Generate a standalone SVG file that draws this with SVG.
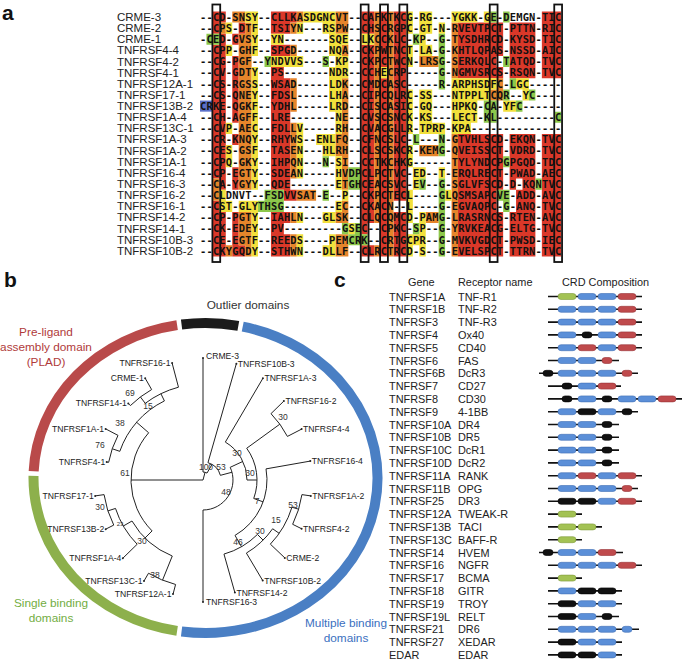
<svg xmlns="http://www.w3.org/2000/svg" xmlns:xlink="http://www.w3.org/1999/xlink" width="685" height="664" viewBox="0 0 685 664">
<style>
.pl{font-family:"Liberation Sans",Arial,sans-serif;font-weight:bold;font-size:21px;fill:#111}
.lbl{font-family:"Liberation Sans",Arial,sans-serif;font-size:11.5px;fill:#222}
.cl{font-family:"Liberation Sans",Arial,sans-serif;font-size:10.9px;fill:#222}
.seq{font-family:"DejaVu Sans Mono",monospace;font-weight:bold;font-size:10.4px;fill:#111}
.box{fill:none;stroke:#111;stroke-width:1.8}
.cR{fill:#da3829}.cO{fill:#e6852b}.cY{fill:#f2e03c}.cG{fill:#8cc84b}.cB{fill:#5b70c9}
.tl{font-family:"Liberation Sans",Arial,sans-serif;font-size:8.6px;fill:#222}
.tr{text-anchor:end}
.bs{font-family:"Liberation Sans",Arial,sans-serif;font-size:8.5px;fill:#333;text-anchor:middle}
.tree{fill:none;stroke:#222;stroke-width:1}
.ring{fill:none;stroke-width:10}
.gl{font-family:"Liberation Sans",Arial,sans-serif;font-size:11.8px;text-anchor:middle}
.crdl{fill:none;stroke:#111;stroke-width:1.6}
.cg{fill:#a3c254;stroke:#7f9a3a;stroke-width:.6}
.cb{fill:#5b8fd8;stroke:#3f6fb5;stroke-width:.6}
.cr{fill:#bf4a4c;stroke:#973335;stroke-width:.6}
.ck{fill:#111;stroke:#000;stroke-width:.6}
</style>
<defs>
<rect id="F" x="0" y="-3" width="18" height="6" rx="3"/>
<rect id="S" x="4" y="-3" width="10" height="6" rx="3"/>
</defs>

<g id="panel-a">
<text class="pl" x="2" y="20">a</text>
<g id="a-labels" class="lbl">
<text x="117" y="21">CRME-3</text>
<text x="117" y="32.1">CRME-2</text>
<text x="117" y="43.2">CRME-1</text>
<text x="117" y="54.3">TNFRSF4-4</text>
<text x="117" y="65.5">TNFRSF4-2</text>
<text x="117" y="76.6">TNFRSF4-1</text>
<text x="117" y="87.7">TNFRSF12A-1</text>
<text x="117" y="98.9">TNFRSF17-1</text>
<text x="117" y="110">TNFRSF13B-2</text>
<text x="117" y="121.2">TNFRSF1A-4</text>
<text x="117" y="132.3">TNFRSF13C-1</text>
<text x="117" y="143.4">TNFRSF1A-3</text>
<text x="117" y="154.6">TNFRSF1A-2</text>
<text x="117" y="165.7">TNFRSF1A-1</text>
<text x="117" y="176.9">TNFRSF16-4</text>
<text x="117" y="188">TNFRSF16-3</text>
<text x="117" y="199.1">TNFRSF16-2</text>
<text x="117" y="210.3">TNFRSF16-1</text>
<text x="117" y="221.4">TNFRSF14-2</text>
<text x="117" y="232.6">TNFRSF14-1</text>
<text x="117" y="243.7">TNFRSF10B-3</text>
<text x="117" y="254.8">TNFRSF10B-2</text>
</g>
<g id="a-cells" transform="translate(200 11.4) scale(6.45 11.14)">
<path class="cR" d="M2 0h2v1h-2zM11 0h4v1h-4zM25 0h2v1h-2zM28 0h1v1h-1zM30 0h2v1h-2zM53 0h3v1h-3zM2 1h1v1h-1zM6 1h1v1h-1zM11 1h3v1h-3zM25 1h2v1h-2zM28 1h1v1h-1zM30 1h2v1h-2zM40 1h7v1h-7zM48 1h4v1h-4zM53 1h3v1h-3zM3 2h1v1h-1zM5 2h1v1h-1zM28 2h1v1h-1zM30 2h2v1h-2zM40 2h7v1h-7zM48 2h4v1h-4zM53 2h3v1h-3zM2 3h2v1h-2zM11 3h3v1h-3zM25 3h2v1h-2zM28 3h1v1h-1zM30 3h2v1h-2zM40 3h7v1h-7zM48 3h4v1h-4zM53 3h3v1h-3zM2 4h2v1h-2zM5 4h1v1h-1zM25 4h2v1h-2zM28 4h1v1h-1zM30 4h2v1h-2zM40 4h6v1h-6zM48 4h4v1h-4zM53 4h3v1h-3zM2 5h2v1h-2zM5 5h1v1h-1zM11 5h2v1h-2zM25 5h2v1h-2zM30 5h2v1h-2zM40 5h7v1h-7zM48 5h4v1h-4zM53 5h3v1h-3zM2 6h2v1h-2zM5 6h1v1h-1zM11 6h3v1h-3zM25 6h2v1h-2zM28 6h1v1h-1zM30 6h2v1h-2zM2 7h2v1h-2zM5 7h1v1h-1zM11 7h3v1h-3zM25 7h2v1h-2zM28 7h1v1h-1zM30 7h2v1h-2zM2 8h2v1h-2zM5 8h1v1h-1zM11 8h3v1h-3zM25 8h2v1h-2zM28 8h1v1h-1zM30 8h2v1h-2zM2 9h2v1h-2zM5 9h1v1h-1zM11 9h3v1h-3zM25 9h2v1h-2zM28 9h1v1h-1zM30 9h2v1h-2zM2 10h2v1h-2zM11 10h3v1h-3zM25 10h2v1h-2zM28 10h1v1h-1zM30 10h2v1h-2zM2 11h2v1h-2zM5 11h1v1h-1zM11 11h3v1h-3zM25 11h2v1h-2zM28 11h1v1h-1zM30 11h2v1h-2zM40 11h7v1h-7zM48 11h4v1h-4zM53 11h3v1h-3zM2 12h2v1h-2zM11 12h3v1h-3zM25 12h2v1h-2zM28 12h1v1h-1zM30 12h2v1h-2zM40 12h7v1h-7zM48 12h4v1h-4zM53 12h3v1h-3zM2 13h2v1h-2zM11 13h3v1h-3zM25 13h2v1h-2zM28 13h1v1h-1zM30 13h2v1h-2zM40 13h7v1h-7zM48 13h4v1h-4zM53 13h3v1h-3zM2 14h2v1h-2zM5 14h1v1h-1zM11 14h3v1h-3zM25 14h2v1h-2zM28 14h1v1h-1zM30 14h2v1h-2zM40 14h7v1h-7zM48 14h4v1h-4zM53 14h3v1h-3zM3 15h1v1h-1zM5 15h1v1h-1zM11 15h3v1h-3zM25 15h2v1h-2zM28 15h1v1h-1zM30 15h2v1h-2zM40 15h7v1h-7zM48 15h1v1h-1zM50 15h2v1h-2zM53 15h3v1h-3zM13 16h2v1h-2zM25 16h2v1h-2zM28 16h1v1h-1zM30 16h2v1h-2zM40 16h6v1h-6zM49 16h3v1h-3zM53 16h3v1h-3zM2 17h1v1h-1zM25 17h2v1h-2zM28 17h1v1h-1zM40 17h6v1h-6zM49 17h3v1h-3zM53 17h3v1h-3zM2 18h2v1h-2zM5 18h1v1h-1zM11 18h3v1h-3zM25 18h2v1h-2zM28 18h1v1h-1zM30 18h2v1h-2zM40 18h7v1h-7zM48 18h4v1h-4zM53 18h3v1h-3zM2 19h2v1h-2zM5 19h1v1h-1zM11 19h2v1h-2zM25 19h1v1h-1zM28 19h1v1h-1zM30 19h2v1h-2zM40 19h7v1h-7zM48 19h4v1h-4zM53 19h3v1h-3zM2 20h2v1h-2zM5 20h1v1h-1zM11 20h3v1h-3zM28 20h1v1h-1zM30 20h2v1h-2zM40 20h7v1h-7zM48 20h4v1h-4zM53 20h3v1h-3zM2 21h2v1h-2zM5 21h2v1h-2zM11 21h3v1h-3zM25 21h2v1h-2zM28 21h1v1h-1zM30 21h2v1h-2zM40 21h7v1h-7zM48 21h4v1h-4zM53 21h3v1h-3z"/>
<path class="cO" d="M5 0h2v1h-2zM15 0h1v1h-1zM21 0h2v1h-2zM27 0h1v1h-1zM29 0h1v1h-1zM3 1h1v1h-1zM7 1h1v1h-1zM14 1h1v1h-1zM21 1h2v1h-2zM27 1h1v1h-1zM29 1h1v1h-1zM39 1h1v1h-1zM6 2h2v1h-2zM27 2h1v1h-1zM29 2h1v1h-1zM39 2h1v1h-1zM6 3h2v1h-2zM14 3h1v1h-1zM22 3h1v1h-1zM27 3h1v1h-1zM29 3h1v1h-1zM39 3h1v1h-1zM6 4h2v1h-2zM27 4h1v1h-1zM29 4h1v1h-1zM34 4h3v1h-3zM39 4h1v1h-1zM6 5h2v1h-2zM27 5h1v1h-1zM29 5h1v1h-1zM39 5h1v1h-1zM6 6h2v1h-2zM14 6h1v1h-1zM22 6h1v1h-1zM27 6h1v1h-1zM29 6h1v1h-1zM46 6h1v1h-1zM6 7h2v1h-2zM14 7h1v1h-1zM22 7h1v1h-1zM27 7h1v1h-1zM29 7h1v1h-1zM45 7h2v1h-2zM6 8h2v1h-2zM14 8h1v1h-1zM22 8h1v1h-1zM27 8h1v1h-1zM29 8h1v1h-1zM6 9h2v1h-2zM22 9h1v1h-1zM27 9h1v1h-1zM29 9h1v1h-1zM6 10h2v1h-2zM14 10h1v1h-1zM22 10h1v1h-1zM27 10h1v1h-1zM29 10h1v1h-1zM6 11h2v1h-2zM14 11h1v1h-1zM21 11h2v1h-2zM27 11h1v1h-1zM29 11h1v1h-1zM39 11h1v1h-1zM6 12h2v1h-2zM14 12h1v1h-1zM21 12h2v1h-2zM27 12h1v1h-1zM29 12h1v1h-1zM34 12h3v1h-3zM39 12h1v1h-1zM6 13h2v1h-2zM14 13h1v1h-1zM22 13h1v1h-1zM27 13h1v1h-1zM29 13h1v1h-1zM39 13h1v1h-1zM6 14h2v1h-2zM14 14h1v1h-1zM22 14h1v1h-1zM27 14h1v1h-1zM29 14h1v1h-1zM39 14h1v1h-1zM2 15h1v1h-1zM6 15h2v1h-2zM22 15h1v1h-1zM27 15h1v1h-1zM29 15h1v1h-1zM39 15h1v1h-1zM2 16h1v1h-1zM15 16h3v1h-3zM27 16h1v1h-1zM29 16h1v1h-1zM39 16h1v1h-1zM22 17h1v1h-1zM27 17h1v1h-1zM29 17h1v1h-1zM39 17h1v1h-1zM6 18h2v1h-2zM14 18h1v1h-1zM21 18h2v1h-2zM27 18h1v1h-1zM29 18h1v1h-1zM35 18h2v1h-2zM39 18h1v1h-1zM6 19h2v1h-2zM29 19h1v1h-1zM39 19h1v1h-1zM6 20h2v1h-2zM14 20h1v1h-1zM21 20h2v1h-2zM29 20h1v1h-1zM39 20h1v1h-1zM4 21h1v1h-1zM7 21h1v1h-1zM14 21h1v1h-1zM21 21h2v1h-2zM27 21h1v1h-1zM29 21h1v1h-1zM39 21h1v1h-1z"/>
<path class="cY" d="M7 0h2v1h-2zM16 0h5v1h-5zM32 0h1v1h-1zM34 0h2v1h-2zM39 0h4v1h-4zM44 0h1v1h-1zM4 1h1v1h-1zM8 1h1v1h-1zM15 1h1v1h-1zM19 1h2v1h-2zM32 1h1v1h-1zM34 1h2v1h-2zM37 1h1v1h-1zM8 2h1v1h-1zM11 2h2v1h-2zM20 2h3v1h-3zM25 2h2v1h-2zM34 2h1v1h-1zM4 3h1v1h-1zM8 3h1v1h-1zM20 3h2v1h-2zM32 3h1v1h-1zM34 3h2v1h-2zM11 4h5v1h-5zM21 4h2v1h-2zM32 4h1v1h-1zM8 5h1v1h-1zM20 5h3v1h-3zM28 5h1v1h-1zM8 6h1v1h-1zM20 6h2v1h-2zM39 6h7v1h-7zM49 6h2v1h-2zM8 7h1v1h-1zM20 7h2v1h-2zM32 7h1v1h-1zM34 7h2v1h-2zM39 7h6v1h-6zM50 7h1v1h-1zM8 8h1v1h-1zM20 8h2v1h-2zM32 8h1v1h-1zM34 8h2v1h-2zM39 8h4v1h-4zM47 8h2v1h-2zM8 9h1v1h-1zM21 9h1v1h-1zM32 9h1v1h-1zM34 9h2v1h-2zM39 9h4v1h-4zM4 10h1v1h-1zM8 10h1v1h-1zM15 10h1v1h-1zM21 10h1v1h-1zM32 10h1v1h-1zM34 10h4v1h-4zM39 10h3v1h-3zM8 11h1v1h-1zM15 11h1v1h-1zM18 11h3v1h-3zM4 12h1v1h-1zM8 12h1v1h-1zM15 12h1v1h-1zM19 12h2v1h-2zM32 12h1v1h-1zM4 13h1v1h-1zM8 13h1v1h-1zM15 13h1v1h-1zM21 13h1v1h-1zM32 13h1v1h-1zM8 14h1v1h-1zM15 14h1v1h-1zM21 14h1v1h-1zM33 14h2v1h-2zM37 14h1v1h-1zM8 15h1v1h-1zM21 15h1v1h-1zM33 15h1v1h-1zM3 16h1v1h-1zM22 16h1v1h-1zM32 16h1v1h-1zM38 16h1v1h-1zM3 17h2v1h-2zM6 17h3v1h-3zM21 17h1v1h-1zM32 17h1v1h-1zM8 18h1v1h-1zM15 18h1v1h-1zM19 18h2v1h-2zM32 18h1v1h-1zM34 18h1v1h-1zM8 19h1v1h-1zM23 19h1v1h-1zM34 19h1v1h-1zM8 20h1v1h-1zM15 20h1v1h-1zM20 20h1v1h-1zM32 20h3v1h-3zM8 21h1v1h-1zM15 21h1v1h-1zM19 21h2v1h-2zM32 21h1v1h-1zM34 21h1v1h-1z"/>
<path class="cG" d="M45 0h1v1h-1zM47 0h1v1h-1zM1 2h2v1h-2zM33 2h1v1h-1zM37 2h1v1h-1zM37 3h1v1h-1zM10 4h1v1h-1zM19 4h1v1h-1zM37 4h1v1h-1zM47 4h1v1h-1zM37 5h1v1h-1zM37 6h1v1h-1zM48 6h1v1h-1zM47 7h1v1h-1zM51 7h1v1h-1zM44 8h2v1h-2zM49 8h1v1h-1zM44 9h2v1h-2zM55 9h1v1h-1zM33 11h1v1h-1zM37 11h1v1h-1zM37 12h1v1h-1zM19 13h1v1h-1zM47 13h1v1h-1zM23 14h2v1h-2zM23 15h2v1h-2zM34 15h1v1h-1zM37 15h1v1h-1zM52 15h1v1h-1zM10 16h3v1h-3zM19 16h1v1h-1zM37 16h1v1h-1zM46 16h2v1h-2zM9 17h4v1h-4zM37 17h1v1h-1zM47 17h1v1h-1zM37 18h1v1h-1zM22 19h1v1h-1zM24 19h1v1h-1zM33 19h1v1h-1zM37 19h1v1h-1zM23 20h3v1h-3zM37 20h1v1h-1zM37 21h1v1h-1z"/>
<path class="cB" d="M0 8h2v1h-2z"/>
</g>
<g id="a-seqs" class="seq">
<text x="200" y="20.7" textLength="361.2" lengthAdjust="spacing">--CD-SNSY--CLLKASDGNCVT--CAFKTKCG-RG---YGKK-GE-DEMGN-TIC</text>
<text x="200" y="31.84" textLength="361.2" lengthAdjust="spacing">--CPS-DTF--TSIYN---RSPW--CHSCRGPC-GT-N-RVEVTPCT-PTTN-RIC</text>
<text x="200" y="42.98" textLength="361.2" lengthAdjust="spacing">-CED-GVSY--YN-------SQE--LKCCKLC-KP--G-TYSDHRCD-KYSD-TIC</text>
<text x="200" y="54.12" textLength="361.2" lengthAdjust="spacing">--CPP-GHF--SPGD-----NQA--CKPWTNCT-LA-G-KHTLQPAS-NSSD-AIC</text>
<text x="200" y="65.26" textLength="361.2" lengthAdjust="spacing">--CG-PGF--YNDVVS---S-KP--CKPCTWCN-LRSG-SERKQLC-TATQD-TVC</text>
<text x="200" y="76.4" textLength="361.2" lengthAdjust="spacing">--CV-GDTY--PS-------NDR--CCHECRP-----G-NGMVSRCS-RSQN-TVC</text>
<text x="200" y="87.54" textLength="361.2" lengthAdjust="spacing">--CS-RGSS--WSAD-----LDK--CMDCASC-----R-ARPHSDFC-LGC-----</text>
<text x="200" y="98.68" textLength="361.2" lengthAdjust="spacing">--CS-QNEY--FDSL-----LHA--CIPCQLRC-SS---NTPPLTCQR--YC----</text>
<text x="200" y="109.82" textLength="361.2" lengthAdjust="spacing">CRKE-QGKF--YDHL-----LRD--CISCASIC-GQ---HPKQ-CA-YFC------</text>
<text x="200" y="120.96" textLength="361.2" lengthAdjust="spacing">--CH-AGFF--LRE-------NE--CVSCSNCK-KS---LECT-KL---------C</text>
<text x="200" y="132.1" textLength="361.2" lengthAdjust="spacing">--CVP-AEC--FDLLV-----RH--CVACGLLR-TPRP-KPA--------------</text>
<text x="200" y="143.24" textLength="361.2" lengthAdjust="spacing">--CR-KNQY--RHYWS--ENLFQ--CFNCSLC-L---N-GTVHLSCD-EKQN-TVC</text>
<text x="200" y="154.38" textLength="361.2" lengthAdjust="spacing">--CES-GSF--TASEN---HLRH--CLSCSKCR-KEMG-QVEISSCT-VDRD-TVC</text>
<text x="200" y="165.52" textLength="361.2" lengthAdjust="spacing">--CPQ-GKY--IHPQN---N-SI--CCTKCHKG------TYLYNDCPGPGQD-TDC</text>
<text x="200" y="176.66" textLength="361.2" lengthAdjust="spacing">--CP-EGTY--SDEAN-----HVDPCLPCTVC-ED--T-ERQLRECT-PWAD-AEC</text>
<text x="200" y="187.8" textLength="361.2" lengthAdjust="spacing">--CA-YGYY--QDE-------ETGHCEACSVC-EV--G-SGLVFSCD-D-KQNTVC</text>
<text x="200" y="198.94" textLength="361.2" lengthAdjust="spacing">--CLDNVT--FSDVVSAT-E--P--CKPCTECL----GLQSMSAPCVE-ADD-AVC</text>
<text x="200" y="210.08" textLength="361.2" lengthAdjust="spacing">--CST-GLYTHSG--------EC--CKACN--L----G-EGVAQPC-G-ANQ-TVC</text>
<text x="200" y="221.22" textLength="361.2" lengthAdjust="spacing">--CP-PGTY--IAHLN---GLSK--CLQCQMCD-PAMG-LRASRNCS-RTEN-AVC</text>
<text x="200" y="232.36" textLength="361.2" lengthAdjust="spacing">--CK-EDEY--PV---------GSEC--CPKC-SP--G-YRVKEACG-ELTG-TVC</text>
<text x="200" y="243.5" textLength="361.2" lengthAdjust="spacing">--CE-EGTF--REEDS----PEMCRK--CRTGCPR--G-MVKVGDCT-PWSD-IEC</text>
<text x="200" y="254.64" textLength="361.2" lengthAdjust="spacing">--CKYGQDY--STHWN---DLLF--CLRCTRCD-S--G-EVELSPCT-TTRN-TVC</text>
</g>
<g id="a-boxes" class="box">
<rect x="212.4" y="4.5" width="7.8" height="257.5"/>
<rect x="360.75" y="4.5" width="7.8" height="257.5"/>
<rect x="380.1" y="4.5" width="7.8" height="257.5"/>
<rect x="399.45" y="4.5" width="7.8" height="257.5"/>
<rect x="489.75" y="4.5" width="7.8" height="257.5"/>
<rect x="554.25" y="4.5" width="7.8" height="257.5"/>
</g>
</g>

<g id="panel-b">
<text class="pl" x="4" y="287">b</text>
<g id="ring">
<path class="ring" stroke="#4a7fc4" d="M242.72 326.67A172 155 0 0 1 181.56 631.49"/>
<path class="ring" stroke="#8db04c" d="M177.12 630.88A172 155 0 0 1 33.51 475.84"/>
<path class="ring" stroke="#b94a4a" d="M33.66 471.24A172 155 0 0 1 177.12 325.12"/>
<path class="ring" stroke="#1b1b1b" d="M181.56 324.5A172 155 0 0 1 238.32 325.85"/>
</g>
<g id="ring-labels" class="gl">
<text x="248" y="309" fill="#333">Outlier domains</text>
<text x="46" y="336" fill="#b03a3a">Pre-ligand</text>
<text x="46" y="351" fill="#b03a3a">assembly domain</text>
<text x="46" y="366" fill="#b03a3a">(PLAD)</text>
<text x="51" y="607" fill="#72ad3f">Single binding</text>
<text x="51" y="622" fill="#72ad3f">domains</text>
<text x="346" y="627" fill="#3b6fc0">Multiple binding</text>
<text x="346" y="642" fill="#3b6fc0">domains</text>
</g>
<g id="tree-connectors" class="tree">
<path d="M203 480L131 480M152.09 530.91A72 72 0 0 1 148.66 432.76M148.66 432.76L136.59 422.26M119.8 451.35A88 88 0 0 1 164.42 400.91M119.8 451.35L112.23 448.74M108.64 462.34A96 96 0 0 1 118 435.38M108.64 462.34L106.68 461.97M118 435.38L105.61 428.87M164.42 400.91L160.91 393.72M145.23 403.33A96 96 0 0 1 178.48 387.19M178.48 387.19L172.1 363.02M145.23 403.33L140.41 396.95M130.37 405.57A104 104 0 0 1 151.63 389.57M130.37 405.57L128.27 403.42M151.63 389.57L145.21 378.27M152.09 530.91L145.02 537.98M172.28 556.03A82 82 0 0 1 131.99 521M172.28 556.03L162.54 580.14M175.59 584.47A108 108 0 0 1 148.51 573.25M175.59 584.47L173.05 594.14M148.51 573.25L143.97 581.02M131.99 521L123.33 526M137.16 544.25A92 92 0 0 1 115.5 508.43M137.16 544.25L122.84 558.22M115.5 508.43L107.89 510.9M113.74 525.09A100 100 0 0 1 104.07 494.61M113.74 525.09L105.71 529.15M104.07 494.61L95.17 495.92"/>
<path d="M203 480L205.07 472.27M203 472A8 8 0 0 1 207 473.07M203 472L203 358M207 473.07L212 464.41M207.96 462.7A18 18 0 0 1 220.39 475.34M207.96 462.7L236.35 363.68M220.39 475.34L231.98 472.24M230.19 467.32A30 30 0 0 1 203 510M203 510L203 602M230.19 467.32L242.88 461.41M225.33 442.09A44 44 0 0 1 247 480M225.33 442.09L262.89 378.33M247 480L257 480M246.69 448.26A54 54 0 0 1 253.74 498.47M246.69 448.26L279.86 424.16M270.99 413.65A95 95 0 0 1 287.42 436.43M270.99 413.65L283.87 401.08M287.42 436.43L301.63 429.1M253.74 498.47L263.14 501.89M266.03 468.89A64 64 0 0 1 235 535.42M266.03 468.89L310.34 461.08M235 535.42L241.5 546.68M257.45 534.45A77 77 0 0 1 223.97 554.09M223.97 554.09L234.86 592.58M257.45 534.45L263.1 540.1M272.63 528.76A85 85 0 0 1 246.39 553.09M246.39 553.09L262.73 580.61M272.63 528.76L279.19 533.34M291.94 507.19A93 93 0 0 1 270.35 544.13M270.35 544.13L284.83 557.92M291.94 507.19L298.63 509.24M301.93 494.61A100 100 0 0 1 292.65 524.31M301.93 494.61L310.83 495.92M292.65 524.31L301.62 528.74"/>
</g>
<g id="tree-leaves" fill="#222">
<circle cx="172.1" cy="363" r="1"/><circle cx="145.2" cy="378.3" r="1"/><circle cx="128.3" cy="403.4" r="1"/><circle cx="105.6" cy="428.9" r="1"/><circle cx="106.7" cy="462" r="1"/><circle cx="95.2" cy="495.9" r="1"/><circle cx="105.7" cy="529.2" r="1"/><circle cx="122.8" cy="558.2" r="1"/><circle cx="144" cy="581" r="1"/><circle cx="173" cy="594.1" r="1"/>
<circle cx="203" cy="358" r="1"/><circle cx="236.4" cy="363.7" r="1"/><circle cx="262.9" cy="378.3" r="1"/><circle cx="283.9" cy="401.1" r="1"/><circle cx="301.6" cy="429.1" r="1"/><circle cx="310.3" cy="461.1" r="1"/><circle cx="310.8" cy="495.9" r="1"/><circle cx="301.6" cy="528.7" r="1"/><circle cx="284.8" cy="557.9" r="1"/><circle cx="262.7" cy="580.6" r="1"/><circle cx="234.9" cy="592.6" r="1"/><circle cx="203" cy="602" r="1"/>
</g>
<g id="tree-labels" class="tl">
<text class="tr" x="170.5" y="366">TNFRSF16-1</text>
<text class="tr" x="143.7" y="381.3">CRME-1</text>
<text class="tr" x="126.8" y="406.4">TNFRSF14-1</text>
<text class="tr" x="104.1" y="431.9">TNFRSF1A-1</text>
<text class="tr" x="105.2" y="465">TNFRSF4-1</text>
<text class="tr" x="93.7" y="498.9">TNFRSF17-1</text>
<text class="tr" x="104.2" y="532.2">TNFRSF13B-2</text>
<text class="tr" x="121.3" y="561.2">TNFRSF1A-4</text>
<text class="tr" x="142.5" y="584">TNFRSF13C-1</text>
<text class="tr" x="171.5" y="597.1">TNFRSF12A-1</text>
<text x="206" y="359">CRME-3</text>
<text x="237.8" y="366.7">TNFRSF10B-3</text>
<text x="264.4" y="381.3">TNFRSF1A-3</text>
<text x="285.4" y="404.1">TNFRSF16-2</text>
<text x="303.1" y="432.1">TNFRSF4-4</text>
<text x="311.8" y="464.1">TNFRSF16-4</text>
<text x="312.3" y="498.9">TNFRSF1A-2</text>
<text x="303.1" y="531.7">TNFRSF4-2</text>
<text x="286.3" y="560.9">CRME-2</text>
<text x="264.2" y="583.6">TNFRSF10B-2</text>
<text x="236.4" y="595.6">TNFRSF14-2</text>
<text x="206" y="605">TNFRSF16-3</text>
</g>
<g id="bootstrap" class="bs">
<text x="130" y="396">69</text>
<text x="148" y="409">15</text>
<text x="120" y="426">38</text>
<text x="100" y="448">76</text>
<text x="125" y="476">61</text>
<text x="100" y="510">30</text>
<text x="120" y="526" font-size="6">23</text>
<text x="142" y="544">30</text>
<text x="155" y="578">38</text>
<text x="206" y="470">100</text>
<text x="221" y="470">53</text>
<text x="226" y="495">48</text>
<text x="237" y="456">30</text>
<text x="250" y="476">30</text>
<text x="283" y="420">30</text>
<text x="257" y="504">7</text>
<text x="293" y="508">53</text>
<text x="276" y="523">15</text>
<text x="260" y="534">30</text>
<text x="238" y="545">46</text>
</g>
</g>

<g id="panel-c">
<text class="pl" x="334" y="287">c</text>
<g id="c-header" class="cl">
<text x="408" y="285.5">Gene</text>
<text x="458" y="285.5">Receptor name</text>
<text x="562" y="285.5">CRD Composition</text>
</g>
<g id="c-genes" class="cl">
<text x="389" y="300.5">TNFRSF1A</text><text x="458" y="300.5">TNF-R1</text>
<text x="389" y="313.3">TNFRSF1B</text><text x="458" y="313.3">TNF-R2</text>
<text x="389" y="326.1">TNFRSF3</text><text x="458" y="326.1">TNF-R3</text>
<text x="389" y="338.9">TNFRSF4</text><text x="458" y="338.9">Ox40</text>
<text x="389" y="351.7">TNFRSF5</text><text x="458" y="351.7">CD40</text>
<text x="389" y="364.5">TNFRSF6</text><text x="458" y="364.5">FAS</text>
<text x="389" y="377.3">TNFRSF6B</text><text x="458" y="377.3">DcR3</text>
<text x="389" y="390.1">TNFRSF7</text><text x="458" y="390.1">CD27</text>
<text x="389" y="402.9">TNFRSF8</text><text x="458" y="402.9">CD30</text>
<text x="389" y="415.7">TNFRSF9</text><text x="458" y="415.7">4-1BB</text>
<text x="389" y="428.5">TNFRSF10A</text><text x="458" y="428.5">DR4</text>
<text x="389" y="441.3">TNFRSF10B</text><text x="458" y="441.3">DR5</text>
<text x="389" y="454.1">TNFRSF10C</text><text x="458" y="454.1">DcR1</text>
<text x="389" y="466.9">TNFRSF10D</text><text x="458" y="466.9">DcR2</text>
<text x="389" y="479.7">TNFRSF11A</text><text x="458" y="479.7">RANK</text>
<text x="389" y="492.5">TNFRSF11B</text><text x="458" y="492.5">OPG</text>
<text x="389" y="505.3">TNFRSF25</text><text x="458" y="505.3">DR3</text>
<text x="389" y="518.1">TNFRSF12A</text><text x="458" y="518.1">TWEAK-R</text>
<text x="389" y="530.9">TNFRSF13B</text><text x="458" y="530.9">TACI</text>
<text x="389" y="543.7">TNFRSF13C</text><text x="458" y="543.7">BAFF-R</text>
<text x="389" y="556.5">TNFRSF14</text><text x="458" y="556.5">HVEM</text>
<text x="389" y="569.3">TNFRSF16</text><text x="458" y="569.3">NGFR</text>
<text x="389" y="582.1">TNFRSF17</text><text x="458" y="582.1">BCMA</text>
<text x="389" y="594.9">TNFRSF18</text><text x="458" y="594.9">GITR</text>
<text x="389" y="607.7">TNFRSF19</text><text x="458" y="607.7">TROY</text>
<text x="389" y="620.5">TNFRSF19L</text><text x="458" y="620.5">RELT</text>
<text x="389" y="633.3">TNFRSF21</text><text x="458" y="633.3">DR6</text>
<text x="389" y="646.1">TNFRSF27</text><text x="458" y="646.1">XEDAR</text>
<text x="389" y="658.9">EDAR</text><text x="458" y="658.9">EDAR</text>
</g>
<g id="c-lines">
<path class="crdl" d="M548 296.5H642M548 309.3H642M548 322.1H642M548 334.9H642M548 347.7H642M548 360.5H619M539 373.3H638M548 386.1H621M548 398.9H682M548 411.7H638M548 424.5H619M548 437.3H619M548 450.1H619M548 462.9H619M548 475.7H642M548 488.5H638M548 501.3H642M548 514.1H582M548 526.9H602M548 539.7H582M539 552.5H623M548 565.3H642M548 578.1H582M548 590.9H622M548 603.7H622M548 616.5H619M548 629.3H639M548 642.1H622M548 654.9H622"/>
</g>
<g id="c-domains">
<use href="#F" x="558" y="296.5" class="cg"/><use href="#F" x="578" y="296.5" class="cb"/><use href="#F" x="598" y="296.5" class="cb"/><use href="#F" x="618" y="296.5" class="cr"/>
<use href="#F" x="558" y="309.3" class="cb"/><use href="#F" x="578" y="309.3" class="cb"/><use href="#F" x="598" y="309.3" class="cb"/><use href="#F" x="618" y="309.3" class="cr"/>
<use href="#F" x="558" y="322.1" class="cb"/><use href="#F" x="578" y="322.1" class="cb"/><use href="#F" x="598" y="322.1" class="cb"/><use href="#F" x="618" y="322.1" class="cr"/>
<use href="#F" x="558" y="334.9" class="cb"/><use href="#S" x="578" y="334.9" class="ck"/><use href="#F" x="598" y="334.9" class="cb"/><use href="#F" x="618" y="334.9" class="cr"/>
<use href="#F" x="558" y="347.7" class="cb"/><use href="#F" x="578" y="347.7" class="cr"/><use href="#F" x="598" y="347.7" class="cb"/><use href="#F" x="618" y="347.7" class="cr"/>
<use href="#F" x="558" y="360.5" class="cb"/><use href="#F" x="578" y="360.5" class="cb"/><use href="#S" x="598" y="360.5" class="cr"/>
<use href="#S" x="539" y="373.3" class="ck"/><use href="#F" x="558" y="373.3" class="cb"/><use href="#F" x="578" y="373.3" class="cb"/><use href="#F" x="598" y="373.3" class="cb"/><use href="#S" x="618" y="373.3" class="cr"/>
<use href="#S" x="558" y="386.1" class="ck"/><use href="#F" x="578" y="386.1" class="cb"/><use href="#F" x="598" y="386.1" class="cr"/>
<use href="#S" x="558" y="398.9" class="ck"/><use href="#F" x="578" y="398.9" class="cb"/><use href="#S" x="598" y="398.9" class="ck"/><use href="#F" x="618" y="398.9" class="cb"/><use href="#F" x="638" y="398.9" class="cb"/><use href="#F" x="658" y="398.9" class="cr"/>
<use href="#F" x="558" y="411.7" class="cb"/><use href="#F" x="578" y="411.7" class="ck"/><use href="#F" x="598" y="411.7" class="cb"/><use href="#S" x="618" y="411.7" class="ck"/>
<use href="#F" x="558" y="424.5" class="cb"/><use href="#F" x="578" y="424.5" class="cb"/><use href="#S" x="598" y="424.5" class="ck"/>
<use href="#F" x="558" y="437.3" class="cb"/><use href="#F" x="578" y="437.3" class="cb"/><use href="#S" x="598" y="437.3" class="ck"/>
<use href="#F" x="558" y="450.1" class="cb"/><use href="#F" x="578" y="450.1" class="cb"/><use href="#S" x="598" y="450.1" class="ck"/>
<use href="#F" x="558" y="462.9" class="cb"/><use href="#F" x="578" y="462.9" class="cb"/><use href="#S" x="598" y="462.9" class="ck"/>
<use href="#F" x="558" y="475.7" class="cb"/><use href="#F" x="578" y="475.7" class="cr"/><use href="#F" x="598" y="475.7" class="cb"/><use href="#F" x="618" y="475.7" class="cr"/>
<use href="#F" x="558" y="488.5" class="cb"/><use href="#F" x="578" y="488.5" class="cb"/><use href="#F" x="598" y="488.5" class="cb"/><use href="#S" x="618" y="488.5" class="cr"/>
<use href="#F" x="558" y="501.3" class="ck"/><use href="#F" x="578" y="501.3" class="ck"/><use href="#F" x="598" y="501.3" class="cb"/><use href="#F" x="618" y="501.3" class="cr"/>
<use href="#F" x="558" y="514.1" class="cg"/>
<use href="#F" x="558" y="526.9" class="cg"/><use href="#F" x="578" y="526.9" class="cg"/>
<use href="#F" x="558" y="539.7" class="cg"/>
<use href="#S" x="539" y="552.5" class="ck"/><use href="#F" x="558" y="552.5" class="cb"/><use href="#F" x="578" y="552.5" class="cb"/><use href="#F" x="598" y="552.5" class="cr"/>
<use href="#F" x="558" y="565.3" class="cb"/><use href="#F" x="578" y="565.3" class="cb"/><use href="#F" x="598" y="565.3" class="cb"/><use href="#F" x="618" y="565.3" class="cr"/>
<use href="#F" x="558" y="578.1" class="cg"/>
<use href="#F" x="558" y="590.9" class="cb"/><use href="#F" x="578" y="590.9" class="ck"/><use href="#F" x="598" y="590.9" class="ck"/>
<use href="#F" x="558" y="603.7" class="ck"/><use href="#F" x="578" y="603.7" class="cb"/><use href="#F" x="598" y="603.7" class="cb"/>
<use href="#F" x="558" y="616.5" class="ck"/><use href="#F" x="578" y="616.5" class="cb"/><use href="#S" x="598" y="616.5" class="ck"/>
<use href="#F" x="558" y="629.3" class="cb"/><use href="#F" x="578" y="629.3" class="cb"/><use href="#F" x="598" y="629.3" class="cb"/><use href="#S" x="618" y="629.3" class="cb"/>
<use href="#F" x="558" y="642.1" class="ck"/><use href="#F" x="578" y="642.1" class="cb"/><use href="#F" x="598" y="642.1" class="cb"/>
<use href="#F" x="558" y="654.9" class="ck"/><use href="#F" x="578" y="654.9" class="ck"/><use href="#F" x="598" y="654.9" class="cb"/>
</g>
</g>
</svg>
